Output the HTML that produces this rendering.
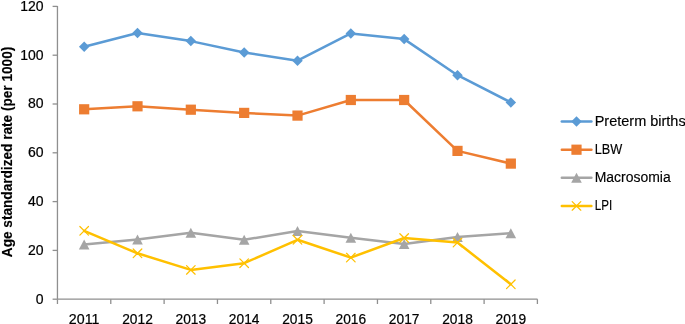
<!DOCTYPE html>
<html><head><meta charset="utf-8"><title>Chart</title>
<style>html,body{margin:0;padding:0;background:#fff;}body{width:685px;height:324px;overflow:hidden;}svg{display:block;}</style>
</head><body>
<svg width="685" height="324" viewBox="0 0 685 324">
<rect width="685" height="324" fill="#fff"/>
<g stroke="#8f8f8f" stroke-width="1.3" fill="none">
<path d="M57.45 6V299.2M57.45 299.2H537.5"/>
<path d="M52.6 6.40H57.45"/>
<path d="M52.6 55.20H57.45"/>
<path d="M52.6 104.00H57.45"/>
<path d="M52.6 152.80H57.45"/>
<path d="M52.6 201.60H57.45"/>
<path d="M52.6 250.40H57.45"/>
<path d="M52.6 299.20H57.45"/>
<path d="M57.45 299.2V304"/>
<path d="M110.78 299.2V304"/>
<path d="M164.12 299.2V304"/>
<path d="M217.45 299.2V304"/>
<path d="M270.78 299.2V304"/>
<path d="M324.11 299.2V304"/>
<path d="M377.45 299.2V304"/>
<path d="M430.78 299.2V304"/>
<path d="M484.11 299.2V304"/>
<path d="M537.40 299.2V304"/>
</g>
<g font-family="Liberation Sans, sans-serif" font-size="14" fill="#000" stroke="#000" stroke-width="0.22" text-anchor="end">
<text x="43.5" y="10.7">120</text>
<text x="43.5" y="59.5">100</text>
<text x="43.5" y="108.4">80</text>
<text x="43.5" y="157.2">60</text>
<text x="43.5" y="206.0">40</text>
<text x="43.5" y="254.9">20</text>
<text x="43.5" y="303.7">0</text>
</g>
<g font-family="Liberation Sans, sans-serif" font-size="14.4" fill="#000" stroke="#000" stroke-width="0.22" text-anchor="middle">
<text x="84.17" y="324.1" textLength="30.6" lengthAdjust="spacingAndGlyphs">2011</text>
<text x="137.50" y="324.1" textLength="30.6" lengthAdjust="spacingAndGlyphs">2012</text>
<text x="190.83" y="324.1" textLength="30.6" lengthAdjust="spacingAndGlyphs">2013</text>
<text x="244.17" y="324.1" textLength="30.6" lengthAdjust="spacingAndGlyphs">2014</text>
<text x="297.50" y="324.1" textLength="30.6" lengthAdjust="spacingAndGlyphs">2015</text>
<text x="350.83" y="324.1" textLength="30.6" lengthAdjust="spacingAndGlyphs">2016</text>
<text x="404.16" y="324.1" textLength="30.6" lengthAdjust="spacingAndGlyphs">2017</text>
<text x="457.50" y="324.1" textLength="30.6" lengthAdjust="spacingAndGlyphs">2018</text>
<text x="510.83" y="324.1" textLength="30.6" lengthAdjust="spacingAndGlyphs">2019</text>
</g>
<text transform="translate(11.7,257.2) rotate(-90)" font-family="Liberation Sans, sans-serif" font-weight="bold" font-size="14" fill="#000" stroke="#000" stroke-width="0.15" textLength="210.5" lengthAdjust="spacingAndGlyphs">Age standardized rate (per 1000)</text>
<polyline points="84.17,46.70 137.50,33.00 190.83,41.10 244.17,52.50 297.50,60.70 350.83,33.40 404.16,39.10 457.50,75.20 510.83,102.40" fill="none" stroke="#5B9BD5" stroke-width="2.5" stroke-linejoin="round" stroke-linecap="round"/>
<path d="M84.17 41.45L89.42 46.70L84.17 51.95L78.92 46.70Z" fill="#5B9BD5"/>
<path d="M137.50 27.75L142.75 33.00L137.50 38.25L132.25 33.00Z" fill="#5B9BD5"/>
<path d="M190.83 35.85L196.08 41.10L190.83 46.35L185.58 41.10Z" fill="#5B9BD5"/>
<path d="M244.17 47.25L249.42 52.50L244.17 57.75L238.92 52.50Z" fill="#5B9BD5"/>
<path d="M297.50 55.45L302.75 60.70L297.50 65.95L292.25 60.70Z" fill="#5B9BD5"/>
<path d="M350.83 28.15L356.08 33.40L350.83 38.65L345.58 33.40Z" fill="#5B9BD5"/>
<path d="M404.16 33.85L409.41 39.10L404.16 44.35L398.91 39.10Z" fill="#5B9BD5"/>
<path d="M457.50 69.95L462.75 75.20L457.50 80.45L452.25 75.20Z" fill="#5B9BD5"/>
<path d="M510.83 97.15L516.08 102.40L510.83 107.65L505.58 102.40Z" fill="#5B9BD5"/>
<polyline points="84.17,109.30 137.50,106.30 190.83,109.70 244.17,112.90 297.50,115.60 350.83,100.00 404.16,100.00 457.50,150.90 510.83,163.60" fill="none" stroke="#ED7D31" stroke-width="2.5" stroke-linejoin="round" stroke-linecap="round"/>
<rect x="79.07" y="104.20" width="10.20" height="10.20" fill="#ED7D31"/>
<rect x="132.40" y="101.20" width="10.20" height="10.20" fill="#ED7D31"/>
<rect x="185.73" y="104.60" width="10.20" height="10.20" fill="#ED7D31"/>
<rect x="239.07" y="107.80" width="10.20" height="10.20" fill="#ED7D31"/>
<rect x="292.40" y="110.50" width="10.20" height="10.20" fill="#ED7D31"/>
<rect x="345.73" y="94.90" width="10.20" height="10.20" fill="#ED7D31"/>
<rect x="399.06" y="94.90" width="10.20" height="10.20" fill="#ED7D31"/>
<rect x="452.40" y="145.80" width="10.20" height="10.20" fill="#ED7D31"/>
<rect x="505.73" y="158.50" width="10.20" height="10.20" fill="#ED7D31"/>
<polyline points="84.17,244.50 137.50,239.40 190.83,232.70 244.17,239.80 297.50,231.00 350.83,237.70 404.16,244.10 457.50,237.00 510.83,233.20" fill="none" stroke="#A5A5A5" stroke-width="2.5" stroke-linejoin="round" stroke-linecap="round"/>
<path d="M84.17 239.50L89.47 249.50L78.87 249.50Z" fill="#A5A5A5"/>
<path d="M137.50 234.40L142.80 244.40L132.20 244.40Z" fill="#A5A5A5"/>
<path d="M190.83 227.70L196.13 237.70L185.53 237.70Z" fill="#A5A5A5"/>
<path d="M244.17 234.80L249.47 244.80L238.87 244.80Z" fill="#A5A5A5"/>
<path d="M297.50 226.00L302.80 236.00L292.20 236.00Z" fill="#A5A5A5"/>
<path d="M350.83 232.70L356.13 242.70L345.53 242.70Z" fill="#A5A5A5"/>
<path d="M404.16 239.10L409.46 249.10L398.86 249.10Z" fill="#A5A5A5"/>
<path d="M457.50 232.00L462.80 242.00L452.20 242.00Z" fill="#A5A5A5"/>
<path d="M510.83 228.20L516.13 238.20L505.53 238.20Z" fill="#A5A5A5"/>
<polyline points="84.17,230.80 137.50,253.30 190.83,269.90 244.17,263.20 297.50,239.80 350.83,257.60 404.16,238.00 457.50,242.60 510.83,284.30" fill="none" stroke="#FFC000" stroke-width="2.5" stroke-linejoin="round" stroke-linecap="round"/>
<path d="M79.87 226.50L88.47 235.10M88.47 226.50L79.87 235.10" stroke="#FFC000" stroke-width="1.25" stroke-linecap="round" fill="none"/>
<path d="M133.20 249.00L141.80 257.60M141.80 249.00L133.20 257.60" stroke="#FFC000" stroke-width="1.25" stroke-linecap="round" fill="none"/>
<path d="M186.53 265.60L195.13 274.20M195.13 265.60L186.53 274.20" stroke="#FFC000" stroke-width="1.25" stroke-linecap="round" fill="none"/>
<path d="M239.87 258.90L248.47 267.50M248.47 258.90L239.87 267.50" stroke="#FFC000" stroke-width="1.25" stroke-linecap="round" fill="none"/>
<path d="M293.20 235.50L301.80 244.10M301.80 235.50L293.20 244.10" stroke="#FFC000" stroke-width="1.25" stroke-linecap="round" fill="none"/>
<path d="M346.53 253.30L355.13 261.90M355.13 253.30L346.53 261.90" stroke="#FFC000" stroke-width="1.25" stroke-linecap="round" fill="none"/>
<path d="M399.86 233.70L408.46 242.30M408.46 233.70L399.86 242.30" stroke="#FFC000" stroke-width="1.25" stroke-linecap="round" fill="none"/>
<path d="M453.20 238.30L461.80 246.90M461.80 238.30L453.20 246.90" stroke="#FFC000" stroke-width="1.25" stroke-linecap="round" fill="none"/>
<path d="M506.53 280.00L515.13 288.60M515.13 280.00L506.53 288.60" stroke="#FFC000" stroke-width="1.25" stroke-linecap="round" fill="none"/>
<path d="M561.8 121.6H591.4" stroke="#5B9BD5" stroke-width="2.5" stroke-linecap="round"/>
<path d="M576.50 116.35L581.75 121.60L576.50 126.85L571.25 121.60Z" fill="#5B9BD5"/>
<text x="594.7" y="126.0" font-family="Liberation Sans, sans-serif" font-size="14" fill="#000" stroke="#000" stroke-width="0.15" textLength="91" lengthAdjust="spacingAndGlyphs">Preterm births</text>
<path d="M561.8 149.7H591.4" stroke="#ED7D31" stroke-width="2.5" stroke-linecap="round"/>
<rect x="571.40" y="144.60" width="10.20" height="10.20" fill="#ED7D31"/>
<text x="594.7" y="154.1" font-family="Liberation Sans, sans-serif" font-size="14" fill="#000" stroke="#000" stroke-width="0.15" textLength="27.5" lengthAdjust="spacingAndGlyphs">LBW</text>
<path d="M561.8 177.8H591.4" stroke="#A5A5A5" stroke-width="2.5" stroke-linecap="round"/>
<path d="M576.50 172.80L581.80 182.80L571.20 182.80Z" fill="#A5A5A5"/>
<text x="594.7" y="182.2" font-family="Liberation Sans, sans-serif" font-size="14" fill="#000" stroke="#000" stroke-width="0.15" textLength="76" lengthAdjust="spacingAndGlyphs">Macrosomia</text>
<path d="M561.8 205.9H591.4" stroke="#FFC000" stroke-width="2.5" stroke-linecap="round"/>
<path d="M572.20 201.60L580.80 210.20M580.80 201.60L572.20 210.20" stroke="#FFC000" stroke-width="1.25" stroke-linecap="round" fill="none"/>
<text x="594.7" y="210.3" font-family="Liberation Sans, sans-serif" font-size="14" fill="#000" stroke="#000" stroke-width="0.15" textLength="17.5" lengthAdjust="spacingAndGlyphs">LPI</text>
</svg>
</body></html>
